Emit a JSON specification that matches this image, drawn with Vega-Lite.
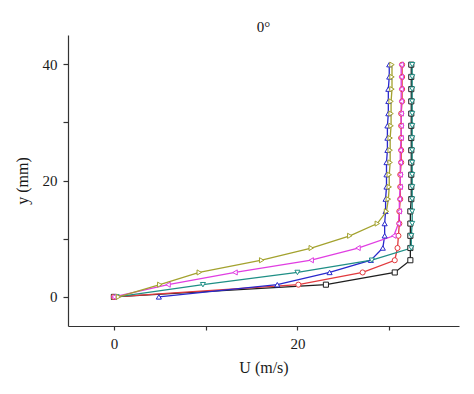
{
  "$schema": "https://vega.github.io/schema/vega-lite/v6.json",
  "autosize": "none",
  "width": 391,
  "height": 291,
  "padding": {"left": 68, "top": 35, "right": 15, "bottom": 68},
  "background": "white",
  "title": {"text": "0°", "font": "Liberation Serif", "fontSize": 15, "fontWeight": "normal", "color": "#111", "anchor": "middle", "offset": 0},
  "config": {"view": {"stroke": null}, "axis": {"grid": false, "labelFont": "Liberation Serif", "titleFont": "Liberation Serif", "labelFontSize": 15, "titleFontSize": 16, "titleFontWeight": "normal", "labelColor": "#1a1a1a", "titleColor": "#1a1a1a", "domainColor": "#333", "tickColor": "#333", "domainWidth": 1.2, "tickWidth": 1.2}},
  "datasets": {
    "profiles": [
      {"s": "A", "y": 0, "U": 0}, {"s": "A", "y": 2.1, "U": 23.1}, {"s": "A", "y": 4.2, "U": 30.6}, {"s": "A", "y": 6.3, "U": 32.3}, {"s": "A", "y": 8.4, "U": 32.3}, {"s": "A", "y": 10.5, "U": 32.3}, {"s": "A", "y": 12.6, "U": 32.3}, {"s": "A", "y": 14.7, "U": 32.3}, {"s": "A", "y": 16.8, "U": 32.4}, {"s": "A", "y": 18.9, "U": 32.4}, {"s": "A", "y": 21, "U": 32.4}, {"s": "A", "y": 23.1, "U": 32.4}, {"s": "A", "y": 25.2, "U": 32.4}, {"s": "A", "y": 27.3, "U": 32.4}, {"s": "A", "y": 29.4, "U": 32.4}, {"s": "A", "y": 31.5, "U": 32.4}, {"s": "A", "y": 33.6, "U": 32.4}, {"s": "A", "y": 35.7, "U": 32.4}, {"s": "A", "y": 37.8, "U": 32.4}, {"s": "A", "y": 39.9, "U": 32.4},
      {"s": "B", "y": 0, "U": 0}, {"s": "B", "y": 2.1, "U": 20.1}, {"s": "B", "y": 4.2, "U": 27.1}, {"s": "B", "y": 6.3, "U": 30.6}, {"s": "B", "y": 8.4, "U": 30.9}, {"s": "B", "y": 10.5, "U": 31.0}, {"s": "B", "y": 12.6, "U": 31.1}, {"s": "B", "y": 14.7, "U": 31.1}, {"s": "B", "y": 16.8, "U": 31.2}, {"s": "B", "y": 18.9, "U": 31.2}, {"s": "B", "y": 21, "U": 31.2}, {"s": "B", "y": 23.1, "U": 31.3}, {"s": "B", "y": 25.2, "U": 31.3}, {"s": "B", "y": 27.3, "U": 31.3}, {"s": "B", "y": 29.4, "U": 31.3}, {"s": "B", "y": 31.5, "U": 31.3}, {"s": "B", "y": 33.6, "U": 31.4}, {"s": "B", "y": 35.7, "U": 31.4}, {"s": "B", "y": 37.8, "U": 31.4}, {"s": "B", "y": 39.9, "U": 31.4},
      {"s": "C", "y": 0, "U": 4.9}, {"s": "C", "y": 2.1, "U": 17.8}, {"s": "C", "y": 4.2, "U": 23.5}, {"s": "C", "y": 6.3, "U": 28.0}, {"s": "C", "y": 8.4, "U": 29.3}, {"s": "C", "y": 10.5, "U": 29.5}, {"s": "C", "y": 12.6, "U": 29.5}, {"s": "C", "y": 14.7, "U": 29.6}, {"s": "C", "y": 16.8, "U": 29.6}, {"s": "C", "y": 18.9, "U": 29.7}, {"s": "C", "y": 21, "U": 29.7}, {"s": "C", "y": 23.1, "U": 29.7}, {"s": "C", "y": 25.2, "U": 29.8}, {"s": "C", "y": 27.3, "U": 29.8}, {"s": "C", "y": 29.4, "U": 29.8}, {"s": "C", "y": 31.5, "U": 29.9}, {"s": "C", "y": 33.6, "U": 29.9}, {"s": "C", "y": 35.7, "U": 29.9}, {"s": "C", "y": 37.8, "U": 30.0}, {"s": "C", "y": 39.9, "U": 30.0},
      {"s": "D", "y": 0, "U": 0.3}, {"s": "D", "y": 2.1, "U": 9.7}, {"s": "D", "y": 4.2, "U": 20.0}, {"s": "D", "y": 6.3, "U": 28.1}, {"s": "D", "y": 8.4, "U": 32.4}, {"s": "D", "y": 10.5, "U": 32.4}, {"s": "D", "y": 12.6, "U": 32.5}, {"s": "D", "y": 14.7, "U": 32.5}, {"s": "D", "y": 16.8, "U": 32.5}, {"s": "D", "y": 18.9, "U": 32.5}, {"s": "D", "y": 21, "U": 32.5}, {"s": "D", "y": 23.1, "U": 32.5}, {"s": "D", "y": 25.2, "U": 32.5}, {"s": "D", "y": 27.3, "U": 32.5}, {"s": "D", "y": 29.4, "U": 32.5}, {"s": "D", "y": 31.5, "U": 32.5}, {"s": "D", "y": 33.6, "U": 32.5}, {"s": "D", "y": 35.7, "U": 32.5}, {"s": "D", "y": 37.8, "U": 32.5}, {"s": "D", "y": 39.9, "U": 32.5},
      {"s": "E", "y": 0, "U": 0}, {"s": "E", "y": 2.1, "U": 5.9}, {"s": "E", "y": 4.2, "U": 13.2}, {"s": "E", "y": 6.3, "U": 21.5}, {"s": "E", "y": 8.4, "U": 26.6}, {"s": "E", "y": 10.5, "U": 30.5}, {"s": "E", "y": 12.6, "U": 31.0}, {"s": "E", "y": 14.7, "U": 31.1}, {"s": "E", "y": 16.8, "U": 31.1}, {"s": "E", "y": 18.9, "U": 31.2}, {"s": "E", "y": 21, "U": 31.2}, {"s": "E", "y": 23.1, "U": 31.2}, {"s": "E", "y": 25.2, "U": 31.2}, {"s": "E", "y": 27.3, "U": 31.3}, {"s": "E", "y": 29.4, "U": 31.3}, {"s": "E", "y": 31.5, "U": 31.3}, {"s": "E", "y": 33.6, "U": 31.3}, {"s": "E", "y": 35.7, "U": 31.3}, {"s": "E", "y": 37.8, "U": 31.3}, {"s": "E", "y": 39.9, "U": 31.3},
      {"s": "F", "y": 0, "U": 0.5}, {"s": "F", "y": 2.1, "U": 5.0}, {"s": "F", "y": 4.2, "U": 9.3}, {"s": "F", "y": 6.3, "U": 16.1}, {"s": "F", "y": 8.4, "U": 21.5}, {"s": "F", "y": 10.5, "U": 25.7}, {"s": "F", "y": 12.6, "U": 28.7}, {"s": "F", "y": 14.7, "U": 29.7}, {"s": "F", "y": 16.8, "U": 29.9}, {"s": "F", "y": 18.9, "U": 30.0}, {"s": "F", "y": 21, "U": 30.0}, {"s": "F", "y": 23.1, "U": 30.1}, {"s": "F", "y": 25.2, "U": 30.1}, {"s": "F", "y": 27.3, "U": 30.1}, {"s": "F", "y": 29.4, "U": 30.2}, {"s": "F", "y": 31.5, "U": 30.2}, {"s": "F", "y": 33.6, "U": 30.2}, {"s": "F", "y": 35.7, "U": 30.3}, {"s": "F", "y": 37.8, "U": 30.3}, {"s": "F", "y": 39.9, "U": 30.3}
    ]
  },
  "data": {"name": "profiles"},
  "encoding": {
    "x": {"field": "U", "type": "quantitative", "scale": {"domain": [-5, 37.6], "nice": false, "zero": false},
      "axis": {"title": "U (m/s)", "values": [0, 10, 20, 30], "labelExpr": "datum.value % 20 === 0 ? datum.label : ''", "tickSize": 4, "labelPadding": 6, "titlePadding": 8}},
    "y": {"field": "y", "type": "quantitative", "scale": {"domain": [-5, 45], "nice": false, "zero": false},
      "axis": {"title": "y (mm)", "values": [0, 10, 20, 30, 40], "labelExpr": "datum.value % 20 === 0 ? datum.label : ''", "tickSize": 5, "labelPadding": 6, "titlePadding": 12}},
    "color": {"field": "s", "type": "nominal", "legend": null,
      "scale": {"domain": ["A", "B", "C", "D", "E", "F"], "range": ["#1e1e1e", "#e23a3e", "#2828cc", "#1f8f86", "#e03ee2", "#a3a22e"]}}
  },
  "layer": [
    {"mark": {"type": "line", "strokeWidth": 1.3}, "encoding": {"order": {"field": "y", "type": "quantitative"}}},
    {"mark": {"type": "point", "filled": false, "fill": "white", "fillOpacity": 1, "size": 26, "strokeWidth": 1, "opacity": 1},
      "encoding": {"shape": {"field": "s", "type": "nominal", "legend": null,
        "scale": {"domain": ["A", "B", "C", "D", "E", "F"], "range": ["square", "circle", "triangle-up", "triangle-down", "triangle-left", "triangle-right"]}}}}
  ]
}
